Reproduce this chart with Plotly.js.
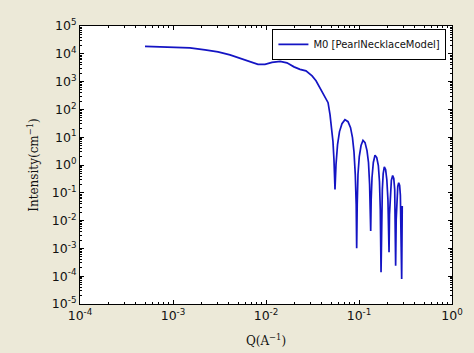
<!DOCTYPE html>
<html>
<head>
<meta charset="utf-8">
<script src="https://cdn.plot.ly/plotly-3.0.1.min.js"></script>
<style>html,body{margin:0;padding:0;background:#ece9d8;}#chart{width:474px;height:353px;}</style>
</head>
<body>
<div id="chart"></div>
<script>
// Q values (A^-1)
const q = [
  5.0e-4, 9.3e-4, 1.52e-3, 2.21e-3, 3.05e-3, 4.10e-3, 5.25e-3, 6.73e-3, 8.20e-3, 9.75e-3,
  1.16e-2, 1.42e-2, 1.68e-2, 2.00e-2, 2.32e-2, 2.69e-2, 3.13e-2, 3.45e-2, 3.81e-2, 4.21e-2,
  4.65e-2, 4.88e-2, 5.08e-2, 5.25e-2, 5.38e-2, 5.52e-2,
  5.66e-2, 5.88e-2, 6.17e-2, 6.56e-2, 7.06e-2, 7.62e-2, 8.11e-2, 8.51e-2, 8.83e-2, 9.12e-2, 9.33e-2, 9.44e-2,
  9.57e-2, 9.75e-2, 0.1007, 0.1052, 0.1104, 0.1161, 0.1219, 0.1265, 0.1300, 0.1336,
  0.1352, 0.1380, 0.1426, 0.1486, 0.1552, 0.1614, 0.1660, 0.1694, 0.1726,
  0.1746, 0.1782, 0.1820, 0.1871, 0.1932, 0.1991, 0.2047, 0.2104,
  0.2128, 0.2173, 0.2228, 0.2301, 0.2366, 0.2421, 0.2477,
  0.2512, 0.2564, 0.2612, 0.2673, 0.2735, 0.2786, 0.2877,
  0.2917
];
// Intensity values (cm^-1)
const intensity = [
  1.84e4, 1.77e4, 1.63e4, 1.38e4, 1.17e4, 9.1e3, 6.84e3, 5.13e3, 4.17e3, 4.17e3,
  4.92e3, 5.34e3, 4.72e3, 3.39e3, 2.76e3, 2.44e3, 1.61e3, 1.07e3, 600, 336,
  174, 64.6, 24.0, 6.95, 1.57, 0.132,
  1.04, 5.43, 15.9, 30.7, 42.8, 36.2, 22.1, 9.68, 3.05, 0.456, 0.0384, 1.02e-3,
  0.0384, 0.456, 2.02, 5.00, 7.74, 6.40, 3.31, 1.23, 0.200, 4.24e-3,
  0.0579, 0.356, 1.23, 2.24, 1.86, 0.96, 0.256, 0.0254, 1.40e-4,
  0.0111, 0.132, 0.495, 0.861, 0.690, 0.302, 0.0579, 7.31e-4,
  0.0168, 0.103, 0.278, 0.421, 0.328, 0.132, 2.36e-4,
  0.0111, 0.0684, 0.169, 0.230, 0.184, 0.0807, 7.87e-5,
  0.0333
];
const seriesName = 'M0 [PearlNecklaceModel]';
const xTitle = 'Q(A<sup>\u22121</sup>)';
const yTitle = 'Intensity(cm<sup>\u22121</sup>)';

// tick positions and labels
const xTickVals = [1e-4, 1e-3, 1e-2, 1e-1, 1];
const xTickText = ['10<sup>-4</sup>', '10<sup>-3</sup>', '10<sup>-2</sup>', '10<sup>-1</sup>', '10<sup>0</sup>'];
const yTickVals = [1e-5, 1e-4, 1e-3, 1e-2, 1e-1, 1, 10, 100, 1e3, 1e4, 1e5];
const yTickText = ['10<sup>-5</sup>', '10<sup>-4</sup>', '10<sup>-3</sup>', '10<sup>-2</sup>', '10<sup>-1</sup>',
                   '10<sup>0</sup>', '10<sup>1</sup>', '10<sup>2</sup>', '10<sup>3</sup>', '10<sup>4</sup>', '10<sup>5</sup>'];

const tickFont = {family: 'DejaVu Sans', size: 12.5, color: '#111'};
const titleFont = {family: 'DejaVu Serif', size: 12, color: '#111'};

const axisCommon = {
  type: 'log',
  tickmode: 'array',
  ticks: 'inside',
  ticklen: 4,
  tickcolor: '#000',
  showline: true,
  linecolor: '#000',
  linewidth: 1,
  mirror: 'ticks',
  showgrid: false,
  zeroline: false,
  tickfont: tickFont,
  minor: {ticks: 'inside', ticklen: 2, tickcolor: '#000', showgrid: false, dtick: 'D1'}
};

const data = [{
  x: q,
  y: intensity,
  type: 'scatter',
  mode: 'lines',
  name: seriesName,
  line: {color: '#1414c4', width: 1.7},
  showlegend: true
}];

const layout = {
  width: 474,
  height: 353,
  margin: {l: 80, r: 22, t: 26, b: 49},
  paper_bgcolor: '#ece9d8',
  plot_bgcolor: '#ffffff',
  showlegend: true,
  legend: {
    x: 0.985, y: 0.99, xanchor: 'right', yanchor: 'top',
    bgcolor: '#ffffff', bordercolor: '#000', borderwidth: 1,
    font: {family: 'DejaVu Sans', size: 10, color: '#111'},
    itemwidth: 30
  },
  xaxis: Object.assign({}, axisCommon, {
    range: [-4, 0],
    tickvals: xTickVals,
    ticktext: xTickText,
    title: {text: xTitle, font: titleFont, standoff: 14}
  }),
  yaxis: Object.assign({}, axisCommon, {
    range: [-5, 5],
    tickvals: yTickVals,
    ticktext: yTickText,
    title: {text: yTitle, font: titleFont, standoff: 10}
  })
};

Plotly.newPlot('chart', data, layout, {displayModeBar: false, staticPlot: true});
</script>
</body>
</html>
